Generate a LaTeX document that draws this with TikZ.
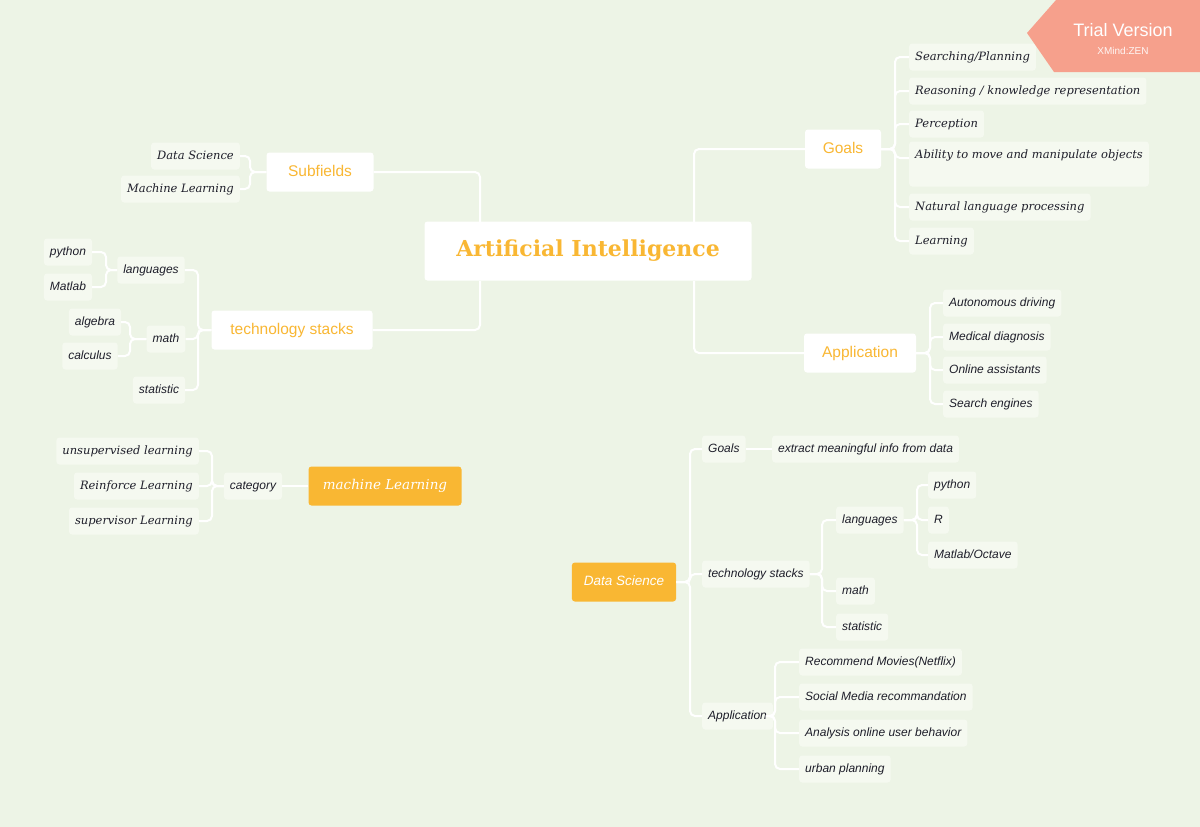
\documentclass[tikz,border=0pt]{standalone}
\usepackage{fontspec}
\setmainfont{Liberation Sans}
\newfontfamily\slab{DejaVu Serif}
\usetikzlibrary{positioning}
\definecolor{bg}{HTML}{EDF4E6}
\definecolor{leaf}{HTML}{F5F9F0}
\definecolor{orn}{HTML}{F9B733}
\definecolor{txt}{HTML}{1E1E2A}
\definecolor{trial}{HTML}{F6A08C}
\tikzset{
 x=1pt,y=-1pt,
 mainbox/.style={fill=white,rounded corners=3,minimum width=327,minimum height=59,font=\slab\bfseries\fontsize{22}{24}\selectfont,text=orn},
 topic/.style={fill=white,rounded corners=3,minimum height=39,inner xsep=14,text height=11,text depth=3,font=\fontsize{15.5}{17}\selectfont,text=orn},
 ftopic/.style={fill=orn,rounded corners=3,minimum height=39,inner xsep=12,text height=10,text depth=3,text=white},
 lf/.style={fill=leaf,rounded corners=3,inner xsep=6,minimum height=27,text height=8.5,text depth=2.5,text=txt,font=\itshape\fontsize{12}{14}\selectfont},
 sl/.style={lf,font=\slab\itshape\fontsize{11.5}{13}\selectfont},
 sf/.style={lf,font=\itshape\fontsize{12}{14}\selectfont},
 con/.style={draw=white,line width=2,rounded corners=5},
}
\begin{document}
\begin{tikzpicture}
\fill[bg] (0,0) rectangle (1200,827);
\useasboundingbox (0,0) rectangle (1200,827);
% central
\node[mainbox] (ai) at (588,251) {Artificial Intelligence};
\node[topic,minimum width=107] (sub) at (320,172) {Subfields};
\node[topic,minimum width=161] (ts) at (292,330) {technology stacks};
\node[topic,minimum width=76] (goals) at (843,149) {Goals};
\node[topic,minimum width=112] (app) at (860,353) {Application};
\node[ftopic,minimum width=153,font=\slab\itshape\fontsize{13.5}{15}\selectfont] (ml) at (385,486) {machine Learning};
\node[ftopic,minimum width=104,font=\itshape\fontsize{13.5}{15}\selectfont] (ds) at (624,582) {Data Science};
% connectors from center
\draw[con] (480,222) |- (sub.east);
\draw[con] (480,281) |- (ts.east);
\draw[con] (694,222) |- (goals.west);
\draw[con] (694,281) |- (app.west);
% subfields
\node[sl,anchor=east] (s1) at (240,156) {Data Science};
\node[sl,anchor=east] (s2) at (240,189) {Machine Learning};
\foreach \n in {s1,s2} \draw[con] (sub.west) -- (250,172) |- (\n.east);
% goals leaves
\node[sl,anchor=west] (g1) at (909,57) {Searching/Planning};
\node[sl,anchor=west] (g2) at (909,91) {Reasoning / knowledge representation};
\node[sl,anchor=west] (g3) at (909,124) {Perception};
\node[sl,anchor=west,minimum height=45,text depth=21,text height=9] (g4) at (909,164) {Ability to move and manipulate objects};
\node[sl,anchor=west] (g5) at (909,207) {Natural language processing};
\node[sl,anchor=west] (g6) at (909,241) {Learning};
\foreach \n/\y in {g1/57,g2/91,g3/124,g4/158,g5/207,g6/241} \draw[con] (goals.east) -- (895,149) |- (909,\y);
% application
\node[sf,anchor=west] (a1) at (943,303) {Autonomous driving};
\node[sf,anchor=west] (a2) at (943,337) {Medical diagnosis};
\node[sf,anchor=west] (a3) at (943,370) {Online assistants};
\node[sf,anchor=west] (a4) at (943,404) {Search engines};
\foreach \n in {a1,a2,a3,a4} \draw[con] (app.east) -- (930,353) |- (\n.west);
% technology stacks
\node[sf] (lang) at (151,270) {languages};
\node[sf] (math) at (166,339) {math};
\node[sf] (stat) at (159,390) {statistic};
\foreach \n in {lang,math,stat} \draw[con] (ts.west) -- (198,330) |- (\n.east);
\node[sf] (py) at (68,252) {python};
\node[sf] (mat) at (68,287) {Matlab};
\foreach \n in {py,mat} \draw[con] (lang.west) -- (106,270) |- (\n.east);
\node[sf] (alg) at (95,322) {algebra};
\node[sf] (calc) at (90,356) {calculus};
\foreach \n in {alg,calc} \draw[con] (math.west) -- (130,339) |- (\n.east);
% machine learning
\node[sf] (cat) at (253,486) {category};
\draw[con] (ml.west) -- (cat.east);
\node[sl,anchor=east] (m1) at (199,451) {unsupervised learning};
\node[sl,anchor=east] (m2) at (199,486) {Reinforce Learning};
\node[sl,anchor=east] (m3) at (199,521) {supervisor Learning};
\foreach \n in {m1,m2,m3} \draw[con] (cat.west) -- (212,486) |- (\n.east);
% data science
\node[sf,anchor=west] (dg) at (702,449) {Goals};
\node[sf,anchor=west] (dt) at (702,574) {technology stacks};
\node[sf,anchor=west] (da) at (702,716) {Application};
\foreach \n in {dg,dt,da} \draw[con] (ds.east) -- (690,582) |- (\n.west);
\node[sf,anchor=west] (ex) at (772,449) {extract meaningful info from data};
\draw[con] (dg.east) -- (ex.west);
\node[sf,anchor=west] (dl) at (836,520) {languages};
\node[sf,anchor=west] (dm) at (836,591) {math};
\node[sf,anchor=west] (dst) at (836,627) {statistic};
\foreach \n in {dl,dm,dst} \draw[con] (dt.east) -- (822,574) |- (\n.west);
\node[sf,anchor=west] (dp) at (928,485) {python};
\node[sf,anchor=west] (dr) at (928,520) {R};
\node[sf,anchor=west] (dmo) at (928,555) {Matlab/Octave};
\foreach \n in {dp,dr,dmo} \draw[con] (dl.east) -- (917,520) |- (\n.west);
\node[sf,anchor=west] (r1) at (799,662) {Recommend Movies(Netflix)};
\node[sf,anchor=west] (r2) at (799,697) {Social Media recommandation};
\node[sf,anchor=west] (r3) at (799,733) {Analysis online user behavior};
\node[sf,anchor=west] (r4) at (799,769) {urban planning};
\foreach \n in {r1,r2,r3,r4} \draw[con] (da.east) -- (775,716) |- (\n.west);
% trial banner
\fill[trial] (1027,33) -- (1056,0) -- (1200,0) -- (1200,72) -- (1054,72) -- cycle;
\node[text=white,font=\fontsize{18}{20}\selectfont] (tv) at (1123,30) {Trial Version};
\node[text=white!90!trial,font=\fontsize{10}{12}\selectfont] (xm) at (1123,51) {XMind:ZEN};
\end{tikzpicture}
\end{document}
